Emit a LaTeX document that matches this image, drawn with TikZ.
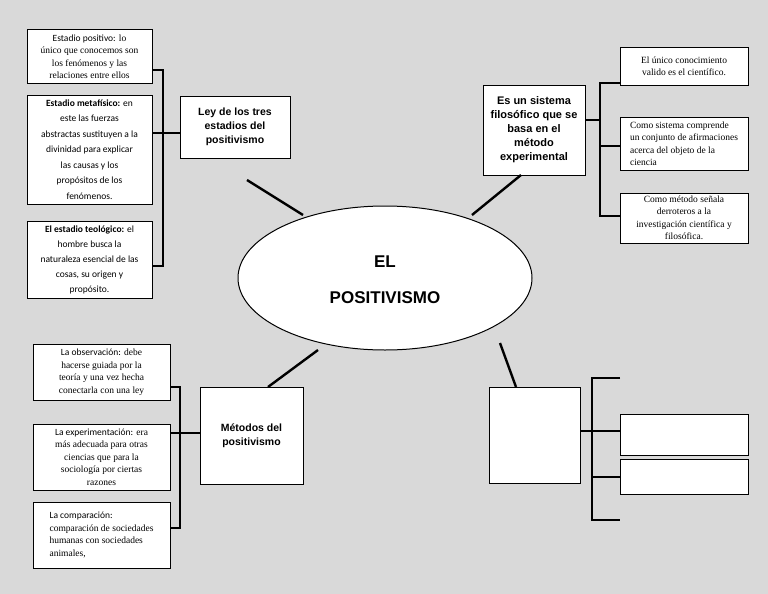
\documentclass[tikz,border=0pt]{standalone}
\usetikzlibrary{shapes.geometric}
\usepackage{fontspec}
\setmainfont{Liberation Serif}
\newfontfamily\carl{Carlito}
\newfontfamily\arl{Liberation Sans}
\begin{document}
\begin{tikzpicture}[x=1pt,y=-1pt,
  bx/.style={draw=black,line width=1pt,fill=white},
  con/.style={line width=2.4pt,black},
  txt/.style={align=center,font=\fontsize{9.5}{12.5}\selectfont},
  ttl/.style={align=center,font=\arl\bfseries\fontsize{10.5}{14}\selectfont}]
\fill[gray!30] (0,0) rectangle (768,594);
\useasboundingbox (0,0) rectangle (768,594);
% center
\node[draw,line width=1pt,fill=white,ellipse,minimum width=294pt,minimum height=144pt] (c) at (385,278) {};
\node[font=\arl\bfseries\fontsize{17}{17}\selectfont] (el) at (385,262) {EL};
\node[font=\arl\bfseries\fontsize{17}{17}\selectfont] (pos) at (385,298) {POSITIVISMO};
% top left
\draw[bx] (27,30) rectangle (152,83) node[pos=.5,txt] (a1) {{\carl Estadio positivo:} lo\\ único que conocemos son\\ los fenómenos y las\\ relaciones entre ellos};
\draw[bx] (27,95) rectangle (152,204) node[pos=.5,align=center,font=\carl\fontsize{9.5}{15.5}\selectfont] (a2) {\textbf{Estadio metafísico:} en\\ este las fuerzas\\ abstractas sustituyen a la\\ divinidad para explicar\\ las causas y los\\ propósitos de los\\ fenómenos.};
\draw[bx] (27,221) rectangle (152,298) node[pos=.5,align=center,font=\carl\fontsize{9.5}{15}\selectfont] (a3) {\textbf{El estadio teológico:} el\\ hombre busca la\\ naturaleza esencial de las\\ cosas, su origen y\\ propósito.};
\draw[bx] (180,96) rectangle (290,158) node[pos=.5,ttl] (ley) {Ley de los tres\\ estadios del\\ positivismo};
\draw[con] (152,70) -- (163,70) -- (163,266) -- (152,266);
\draw[con] (152,133) -- (180,133);
\draw[con] (247,180) -- (303,215);
% top right
\draw[bx] (483,85) rectangle (585,175) node[pos=.5,ttl,font=\arl\bfseries\fontsize{11}{14}\selectfont] (sis) {Es un sistema\\ filosófico que se\\ basa en el\\ método\\ experimental};
\draw[bx] (620,48) rectangle (748,85) node[pos=.5,txt] (b1) {El único conocimiento\\ valido es el científico.};
\draw[bx] (620,117) rectangle (748,170) node[pos=.5,txt,align=left] (b2) {Como sistema comprende\\ un conjunto de afirmaciones\\ acerca del objeto de la\\ ciencia};
\draw[bx] (620,193) rectangle (748,243) node[pos=.5,txt] (b3) {Como método señala\\ derroteros a la\\ investigación científica y\\ filosófica.};
\draw[con] (620,83) -- (600,83) -- (600,216) -- (620,216);
\draw[con] (585,120) -- (600,120);
\draw[con] (600,146) -- (620,146);
\draw[con] (521,175) -- (472,215);
% bottom left
\draw[bx] (33,344) rectangle (170,400) node[pos=.5,txt] (c1) {{\carl La observación:} debe\\ hacerse guiada por la\\ teoría y una vez hecha\\ conectarla con una ley};
\draw[bx] (33,424) rectangle (170,490) node[pos=.5,txt] (c2) {{\carl La experimentación:} era\\ más adecuada para otras\\ ciencias que para la\\ sociología por ciertas\\ razones};
\draw[bx] (33,502) rectangle (170,568) node[pos=.5,txt,align=left] (c3) {{\carl La comparación:}\\ comparación de sociedades\\ humanas con sociedades\\ animales,};
\draw[bx] (200,387) rectangle (303,484) node[pos=.5,ttl] (met) {Métodos del\\ positivismo};
\draw[con] (170,387) -- (180,387) -- (180,528) -- (170,528);
\draw[con] (170,433) -- (200,433);
\draw[con] (268,387) -- (318,350);
% bottom right
\draw[bx] (489,387) rectangle (580,483) node[pos=.5] (e) {};
\draw[bx] (620,414) rectangle (748,455) node[pos=.5] (d1) {};
\draw[bx] (620,459) rectangle (748,494) node[pos=.5] (d2) {};
\draw[con] (620,378) -- (592,378) -- (592,520) -- (620,520);
\draw[con] (580,431) -- (620,431);
\draw[con] (592,477) -- (620,477);
\draw[con] (500,343) -- (516,387);
\end{tikzpicture}
\end{document}
